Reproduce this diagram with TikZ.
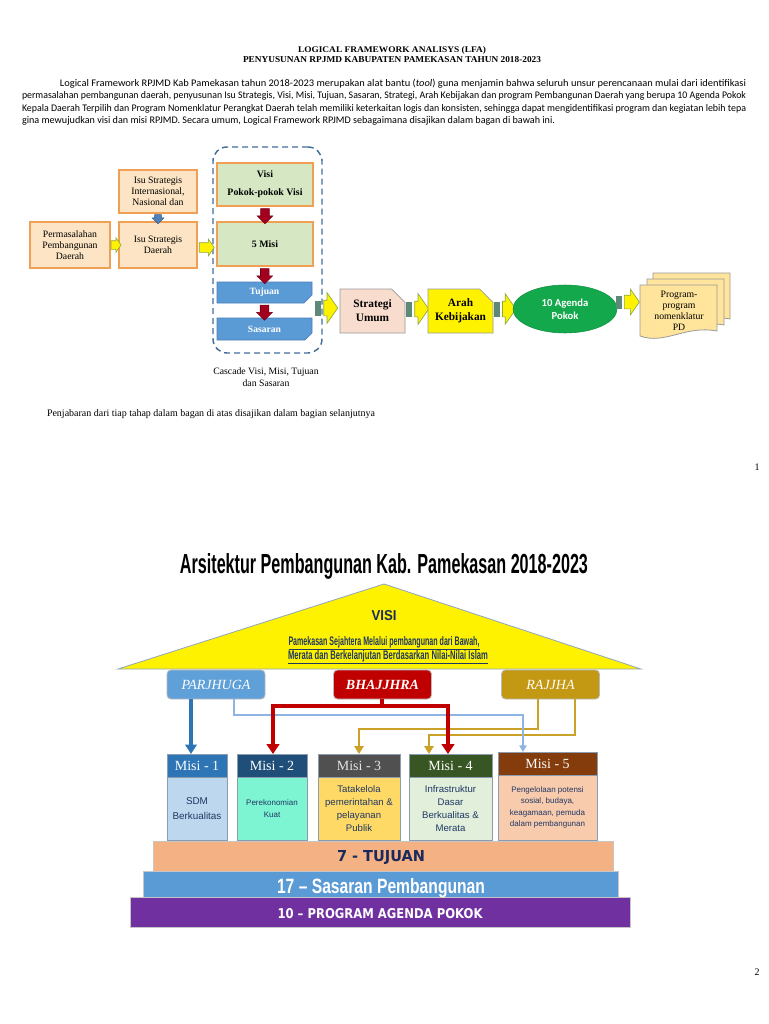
\documentclass[tikz,border=0pt]{standalone}
\usepackage{graphicx}
\usepackage{fontspec}
\setmainfont{Liberation Serif}
\newfontfamily\calib{Carlito}
\newfontfamily\arial{Liberation Sans}
\newfontfamily\dvs{DejaVu Sans}
\usetikzlibrary{shapes.geometric,shapes.arrows,shapes.misc,arrows.meta,calc}
\newdimen\pxu \pxu=0.75pt
\newcommand{\fb}[3]{\resizebox{#1\pxu}{#2\pxu}{#3}}
\newcommand{\fw}[2]{\resizebox{#1\pxu}{!}{#2}}
\newcommand{\pl}[2]{\resizebox{#1\pxu}{7.4\pxu}{\calib\vphantom{(}#2}}
\definecolor{peachF}{HTML}{FCE4C4}
\definecolor{peachB}{HTML}{EFA055}
\definecolor{visiG}{HTML}{D6E8C3}
\definecolor{cascB}{HTML}{5B9BD5}
\definecolor{cascBd}{HTML}{4A7EBB}
\definecolor{dred}{HTML}{A3001F}
\definecolor{arrB}{HTML}{8DAA3F}
\definecolor{tealR}{HTML}{5E8878}
\definecolor{dashB}{HTML}{41709E}
\definecolor{stratF}{HTML}{F8DCCD}
\definecolor{grayB}{HTML}{9A9A9A}
\definecolor{agG}{HTML}{14A84C}
\definecolor{docF}{HTML}{FFE49C}
\definecolor{smallB}{HTML}{4F81BD}
\definecolor{roofB}{HTML}{8EA6BE}
\definecolor{parjF}{HTML}{5FA0D8}
\definecolor{bhajF}{HTML}{C00000}
\definecolor{rajF}{HTML}{C39812}
\definecolor{ablue}{HTML}{2E75B6}
\definecolor{athin}{HTML}{8EB4E3}
\definecolor{ared}{HTML}{C00000}
\definecolor{agold}{HTML}{C9A227}
\definecolor{m1H}{HTML}{2E75B6}
\definecolor{m1B}{HTML}{BDD7EE}
\definecolor{m2H}{HTML}{1F4E79}
\definecolor{m2B}{HTML}{7DF4D2}
\definecolor{m3H}{HTML}{505050}
\definecolor{m3B}{HTML}{FFD966}
\definecolor{m4H}{HTML}{375623}
\definecolor{m4B}{HTML}{E2EFDA}
\definecolor{m5H}{HTML}{843C0C}
\definecolor{m5B}{HTML}{F8CBAD}
\definecolor{misiB}{HTML}{8C9CB0}
\definecolor{tujF}{HTML}{F4B183}
\definecolor{sasF}{HTML}{5B9BD5}
\definecolor{progF}{HTML}{7030A0}
\definecolor{navy}{HTML}{1F3864}
\definecolor{navyT}{HTML}{1B2A5C}
\tikzset{
  W/.style={minimum width=#1*0.75pt},
  H/.style={minimum height=#1*0.75pt},
  plain/.style={inner sep=0pt,outer sep=0pt},
  txt/.style={inner sep=0pt,outer sep=0pt,anchor=base},
  pbox/.style={plain,draw=peachB,fill=peachF,line width=0.8pt,align=center,font=\fontsize{7.3}{8.4}\selectfont},
  gbox/.style={plain,draw=peachB,fill=visiG,line width=0.8pt,align=center,font=\fontsize{7.4}{8.5}\selectfont\bfseries},
  cbox/.style={plain,chamfered rectangle,chamfered rectangle corners=south east,chamfered rectangle xsep=3pt,chamfered rectangle ysep=3pt,draw=cascBd,fill=cascB,line width=0.5pt,text=white,font=\fontsize{7.2}{8.5}\selectfont\bfseries},
  sbox/.style={plain,chamfered rectangle,chamfered rectangle corners=north east,chamfered rectangle xsep=5pt,chamfered rectangle ysep=5pt,draw=grayB,line width=0.6pt,align=center,font=\fontsize{8.5}{10.5}\selectfont\bfseries},
  yarrow/.style n args={3}{single arrow,draw=arrB,fill=yellow,line width=0.5pt,outer sep=0pt,inner xsep=0pt,inner ysep=#2,single arrow head extend=#3,minimum height=#1,minimum width=0pt,single arrow tip angle=110},
  darrow/.style n args={5}{single arrow,draw=#5,fill=#4,line width=0.4pt,outer sep=0pt,inner xsep=0pt,inner ysep=#2,single arrow head extend=#3,minimum height=#1,minimum width=0pt,single arrow tip angle=90,rotate=-90},
  stripe/.style={plain,fill=tealR,W=6,H=15},
  pillar/.style={plain,draw=gray!55,rounded corners=3pt,line width=0.6pt,W=98,H=29,text=white,font=\fontsize{10.5}{12}\selectfont\itshape},
  mhead/.style={plain,draw=misiB,line width=0.6pt,H=23,text=white,font=\fontsize{10.5}{12}\selectfont},
  mbody/.style={plain,draw=misiB,line width=0.6pt,text=navy,align=center,font=\arial\fontsize{7.2}{9.6}\selectfont},
  conn/.style={line join=miter},
  pics/docu/.style={code={\filldraw[draw=grayB,fill=docF,line width=0.6pt] (0,0) -- (77,0) -- (77,46) .. controls (45,40) and (25,60) .. (0,51) -- cycle;}}
}
\begin{document}
\begin{tikzpicture}[x=0.75pt,y=-0.75pt]
\useasboundingbox (0,0) rectangle (768,1024);
\fill[white] (0,0) rectangle (768,1024);
% ---------- page 1 header
\node[txt] (h1) at (392,53) {\fb{188}{6}{\bfseries LOGICAL FRAMEWORK ANALISYS (LFA)}};
\node[txt] (h2) at (392,63) {\fb{298}{6}{\bfseries PENYUSUNAN RPJMD KABUPATEN PAMEKASAN TAHUN 2018-2023}};
\node[txt,anchor=base west] (p1) at (60,86) {\pl{686}{Logical Framework RPJMD Kab Pamekasan tahun 2018-2023 merupakan alat bantu (\textit{tool}) guna menjamin bahwa seluruh unsur perencanaan mulai dari identifikasi}};
\node[txt,anchor=base west] (p2) at (22,98.5) {\pl{724}{permasalahan pembangunan daerah, penyusunan Isu Strategis, Visi, Misi, Tujuan, Sasaran, Strategi, Arah Kebijakan dan program Pembangunan Daerah yang berupa 10 Agenda Pokok}};
\node[txt,anchor=base west] (p3) at (22,111) {\pl{724}{Kepala Daerah Terpilih dan Program Nomenklatur Perangkat Daerah telah memiliki keterkaitan logis dan konsisten, sehingga dapat mengidentifikasi program dan kegiatan lebih tepa}};
\node[txt,anchor=base west] (p4) at (22,123.5) {\pl{533}{gina mewujudkan visi dan misi RPJMD. Secara umum, Logical Framework RPJMD sebagaimana disajikan dalam bagan di bawah ini.}};
% ---------- top diagram
\node[pbox,W=80,H=46] (perm) at (70,245) {Permasalahan\\Pembangunan\\Daerah};
\node[pbox,W=78,H=46] (isud) at (158,245) {Isu Strategis\\Daerah};
\node[pbox,W=78,H=43] (isui) at (158,191.5) {Isu Strategis\\Internasional,\\Nasional dan};
\node[darrow={6.75pt}{2.25pt}{1.875pt}{smallB}{smallB!70!black}] (ab) at ($(isui.south)!0.5!(isud.north)$) {};
\node[yarrow={7.5pt}{3pt}{2.25pt}] (ya1) at ($(perm.east)!0.5!(isud.west)$) {};
\node[plain,draw=dashB,dash pattern=on 4.5pt off 3pt,rounded corners=10.5pt,line width=1.1pt,W=109,H=206] (casc) at (267.5,250) {};
\node[yarrow={11.25pt}{3.375pt}{2.625pt}] (ya2) at ($(isud.east)!0.5!(casc.west)$) {};
\node[gbox,W=96,H=43] (visi) at (265,184.5) {Visi\\[5pt]Pokok-pokok Visi};
\node[gbox,W=96,H=44] (misi) at (265,244) {5 Misi};
\node[cbox,W=95,H=21] (tuj) at (264.5,292.5) {Tujuan};
\node[cbox,W=95,H=22] (sas) at (264.5,329) {Sasaran};
\node[darrow={11.25pt}{3pt}{2.625pt}{dred}{dred!70!black}] (ra1) at ($(visi.south)!0.5!(misi.north)$) {};
\node[darrow={11.25pt}{3pt}{2.625pt}{dred}{dred!70!black}] (ra2) at ($(misi.south)!0.5!(tuj.north)$) {};
\node[darrow={11.25pt}{3pt}{2.625pt}{dred}{dred!70!black}] (ra3) at ($(tuj.south)!0.5!(sas.north)$) {};
\node[plain,align=center,font=\fontsize{7.3}{8.8}\selectfont] (capt) at (266,377) {Cascade Visi, Misi, Tujuan\\dan Sasaran};
% right chain
\node[stripe] (s1) at (318,308) {};
\node[yarrow={10.5pt}{5.625pt}{5.625pt}] (ya3) at (328,308) {};
\node[sbox,fill=stratF,W=65,H=44] (strat) at (372.5,311) {Strategi\\Umum};
\node[stripe] (s2) at (408.5,309) {};
\node[yarrow={10.5pt}{5.625pt}{5.625pt}] (ya4) at (419,309) {};
\node[sbox,fill=yellow,W=65,H=44] (arah) at (460.5,311) {Arah\\Kebijakan};
\node[stripe] (s3) at (496.5,309) {};
\node[yarrow={10pt}{5.625pt}{5.625pt}] (ya5) at (506.5,309) {};
\node[plain,ellipse,fill=agG,draw=agG!85!black,W=104,H=48,text=white,align=center,font=\calib\bfseries\fontsize{8}{10}\selectfont] (agenda) at (565,309) {10 Agenda\\Pokok};
\node[stripe,H=13] (s4) at (619,302) {};
\node[yarrow={11.25pt}{4.875pt}{4.5pt}] (ya6) at (629.5,302) {};
\pic at (653,273) {docu};
\pic at (647,279) {docu};
\pic at (640,285) {docu};
\node[plain,align=center,font=\fontsize{7.3}{8.25}\selectfont] (prog) at (679,311) {Program-\\program\\nomenklatur\\PD};
\node[txt,anchor=base west] (penj) at (47,416) {\fw{328}{Penjabaran dari tiap tahap dalam bagan di atas disajikan dalam bagian selanjutnya}};
\node[txt,font=\fontsize{7.5}{9}\selectfont] (pg1) at (757,470) {1};
% ---------- page 2
\node[txt] (title2) at (384,573) {\fb{408}{20}{\arial\bfseries Arsitektur Pembangunan Kab. Pamekasan 2018-2023}};
\filldraw[fill=yellow,draw=roofB,line width=0.6pt] (118,669) coordinate (rl) -- (384,584) coordinate (ra) -- (641,669) coordinate (rr) -- cycle;
\node[txt,text=navyT] (visiT) at (384,620) {\fb{25}{10}{\arial\bfseries VISI}};
\node[txt,text=navy] (v1) at (384,645) {\fb{191}{9}{\arial\bfseries\underline{Pamekasan Sejahtera Melalui pembangunan dari Bawah,}}};
\node[txt,text=navy] (v2) at (388,659) {\fb{200}{9}{\arial\bfseries\underline{Merata dan Berkelanjutan Berdasarkan Nilai-Nilai Islam}}};
\node[pillar,fill=parjF] (parj) at (216,684.5) {PARJHUGA};
\node[pillar,fill=bhajF,font=\fontsize{10.5}{12}\selectfont\itshape\bfseries] (bhaj) at (382.5,684.5) {BHAJJHRA};
\node[pillar,fill=rajF] (raj) at (550.5,684.5) {RAJJHA};
\node[mhead,fill=m1H,W=60] (m1h) at (197,765.5) {Misi - 1};
\node[mbody,fill=m1B,W=60,H=63,font=\arial\fontsize{7.4}{11}\selectfont] (m1b) at (197,808.5) {SDM\\Berkualitas};
\node[mhead,fill=m2H,W=70] (m2h) at (272,765.5) {Misi - 2};
\node[mbody,fill=m2B,W=70,H=63,font=\arial\fontsize{6}{9}\selectfont] (m2b) at (272,808.5) {Perekonomian\\Kuat};
\node[mhead,fill=m3H,W=82,text=gray!20] (m3h) at (359,765.5) {Misi - 3};
\node[mbody,fill=m3B,W=82,H=63] (m3b) at (359,808.5) {Tatakelola\\pemerintahan \&\\pelayanan\\Publik};
\node[mhead,fill=m4H,W=83] (m4h) at (450.5,765.5) {Misi - 4};
\node[mbody,fill=m4B,W=83,H=63] (m4b) at (450.5,808.5) {Infrastruktur\\Dasar\\Berkualitas \&\\Merata};
\node[mhead,fill=m5H,W=99] (m5h) at (547.5,763.5) {Misi - 5};
\node[mbody,fill=m5B,W=99,H=65,font=\arial\fontsize{6}{8.5}\selectfont] (m5b) at (547.5,807.5) {Pengelolaan potensi\\sosial, budaya,\\keagamaan, pemuda\\dalam pembangunan};
\node[plain,fill=tujF,draw=gray!45,line width=0.5pt,W=460,H=30] (tujb) at (383,856) {};
\node[plain,fill=sasF,draw=gray!45,line width=0.5pt,W=475,H=26] (sasb) at (380.5,884) {};
\node[plain,fill=progF,draw=gray!45,line width=0.5pt,W=500,H=30] (progb) at (380,912) {};
\node[txt,text=navyT] (tujt) at (381,861) {\fb{88}{11}{\dvs\bfseries 7 - TUJUAN}};
\node[txt,text=white] (sast) at (381,893) {\fb{208}{15}{\arial\bfseries 17 – Sasaran Pembangunan}};
\node[txt,text=white] (progt) at (380,918) {\fb{205}{10}{\dvs\bfseries 10 – PROGRAM AGENDA POKOK}};
% connectors
\draw[conn,agold,line width=1.9pt,-{Triangle[width=7pt,length=6pt]}] (raj.south -| 538,0) |- (359,729) -- (m3h.north -| 359,0);
\draw[conn,agold,line width=1.9pt,-{Triangle[width=7pt,length=6pt]}] (raj.south -| 575,0) |- (429,735) -- (m4h.north -| 429,0);
\draw[conn,athin,line width=1.1pt,-{Triangle[width=5.5pt,length=5pt]}] (parj.south -| 234,0) |- (523,715) -- (m5h.north -| 523,0);
\draw[conn,ablue,line width=2.6pt,-{Triangle[width=8.5pt,length=7pt]}] (parj.south -| 191,0) -- (m1h.north -| 191,0);
\draw[conn,ared,line width=3pt,-{Triangle[width=9.5pt,length=7.5pt]}] (bhaj.south -| 382,0) |- (273,706) -- (m2h.north -| 273,0);
\draw[conn,ared,line width=3pt,-{Triangle[width=9.5pt,length=7.5pt]}] (bhaj.south -| 382,0) |- (448,706) -- (m4h.north -| 448,0);
\node[txt,font=\fontsize{7.5}{9}\selectfont] (pg2) at (757,975) {2};
\end{tikzpicture}
\end{document}
